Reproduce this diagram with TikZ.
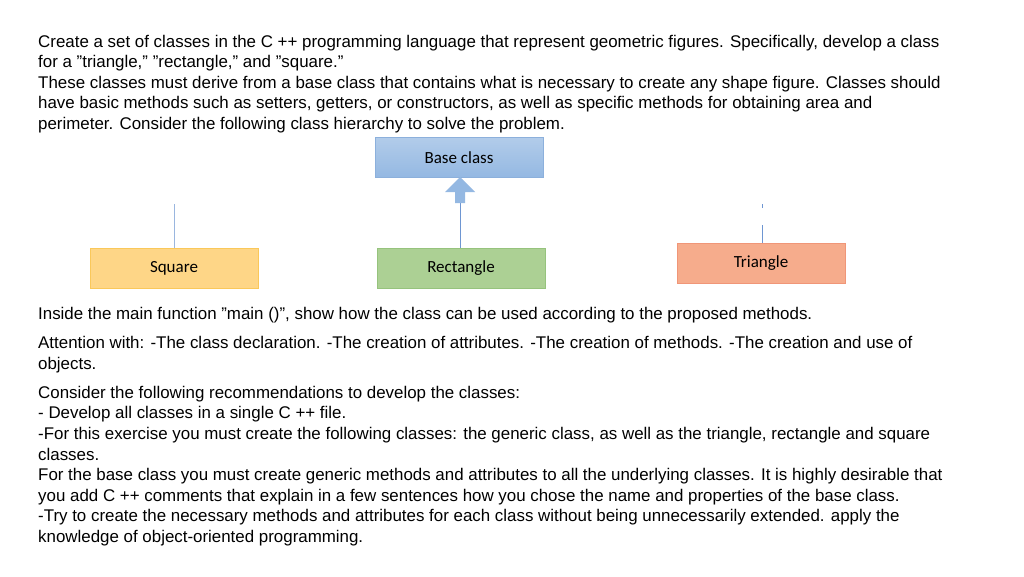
\documentclass[tikz,border=0pt]{standalone}
\usepackage{fontspec}
\setmainfont{Liberation Sans}
\newfontfamily\boxfont{Carlito}
\definecolor{bt}{RGB}{178,204,234}\definecolor{bb}{RGB}{148,184,226}\definecolor{bd}{RGB}{140,176,220}
\definecolor{sqf}{RGB}{254,214,135}\definecolor{sqd}{RGB}{250,200,90}
\definecolor{rcf}{RGB}{172,208,148}\definecolor{rcd}{RGB}{150,195,125}
\definecolor{trf}{RGB}{246,172,140}\definecolor{trd}{RGB}{240,150,120}
\definecolor{ln}{RGB}{110,150,210}
\begin{document}
\begin{tikzpicture}[x=1pt,y=-1pt,
  txt/.style={anchor=base west,inner sep=0pt,font=\fontsize{16.9}{19}\selectfont},
  cls/.style={draw,minimum width=168pt,minimum height=40pt,inner sep=0pt,font=\boxfont\fontsize{17}{20}\selectfont}]
\useasboundingbox (0,0) rectangle (1024,576);
\fill[white] (0,0) rectangle (1024,576);
\def\q{\symbol{34}}
\foreach \t/\y [count=\i] in {
 {Create a set of classes in the C ++ programming language that represent geometric figures. Specifically, develop a class}/47,
 {for a \q triangle,\q\ \q rectangle,\q\ and \q square.\q}/67,
 {These classes must derive from a base class that contains what is necessary to create any shape figure. Classes should}/88,
 {have basic methods such as setters, getters, or constructors, as well as specific methods for obtaining area and}/108,
 {perimeter. Consider the following class hierarchy to solve the problem.}/129,
 {Inside the main function \q main ()\q, show how the class can be used according to the proposed methods.}/319,
 {Attention with: -The class declaration. -The creation of attributes. -The creation of methods. -The creation and use of}/348,
 {objects.}/369,
 {Consider the following recommendations to develop the classes:}/398,
 {- Develop all classes in a single C ++ file.}/418,
 {-For this exercise you must create the following classes: the generic class, as well as the triangle, rectangle and square}/439,
 {classes.}/460,
 {For the base class you must create generic methods and attributes to all the underlying classes. It is highly desirable that}/480,
 {you add C ++ comments that explain in a few sentences how you chose the name and properties of the base class.}/501,
 {-Try to create the necessary methods and attributes for each class without being unnecessarily extended. apply the}/521,
 {knowledge of object-oriented programming.}/542}
 \node[txt] (t\i) at (38,\y) {\t};
\node[cls,draw=bd,top color=bt,bottom color=bb] (base) at (459,157.5) {Base class};
\node[cls,draw=sqd,fill=sqf] (sq) at (174,268) {Square};
\node[cls,draw=rcd,fill=rcf] (rect) at (461,268) {Rectangle};
\node[cls,draw=trd,fill=trf] (tri) at (761,263.5) {Triangle};
\coordinate (sqt) at (174,204);
\coordinate (rb) at (460,203);
\coordinate (tt) at (762,204);
\draw[ln!70] (sqt) -- (sq.north -| sqt);
\draw[ln] (rb) -- (rect.north -| rb);
\draw[ln] (tt) -- ++(0,4) (762,225) -- (tri.north -| tt);
\fill[bb] (455,203) -- (455,192) -- (445,192) -- (460,177) -- (475,192) -- (465,192) -- (465,203) -- cycle;
\end{tikzpicture}
\end{document}
